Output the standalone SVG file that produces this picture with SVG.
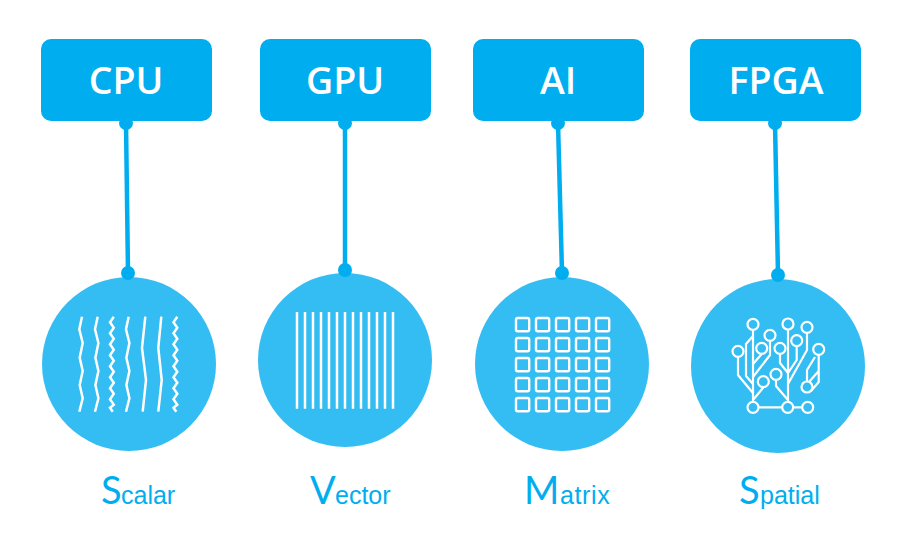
<svg xmlns="http://www.w3.org/2000/svg" width="900" height="546" viewBox="0 0 900 546">
<defs>
<style>
.box{fill:#00AEEF}
.disc{fill:#33BDF2}
.link{stroke:#00AEEF;stroke-width:4.5;fill:none}
.dot{fill:#00AEEF}
.title{font-family:"Open Sans",sans-serif;font-weight:600;font-size:37.500px;fill:#fff;text-anchor:middle}
.lab{font-family:"Liberation Sans",sans-serif;font-size:25px;fill:#00AEEF}
.big{font-family:"Lato",sans-serif;font-size:38px}
.ic{stroke:#fff;stroke-width:2.5;fill:none;stroke-linejoin:miter}
.cell{stroke:#fff;stroke-width:2.4;fill:none}
.tr{stroke:#fff;stroke-width:2.2;fill:none}
</style>
<path id="wob" d="M2.7 0L0 12.6L3.4 26.3L.4 41L3.4 54.3L.4 68.3L3.4 81.6L0 95"/>
<path id="zig" d="M3 0L-.8 5.500L3 11L-.8 16.500L3 22L-.8 27.500L3 33L-.8 38.500L3 44L-.8 49.500L3 55L-.8 60.500L3 66L-.8 71.500L3 77L-.8 82.500L3 88L-.8 91L2 95"/>
<rect id="c" width="13.200" height="13.200" rx="1.800"/>
</defs>
<rect width="900" height="546" fill="#fff"/>
<g id="connectors">
<path class="link" d="M126 123L128 273"/>
<path class="link" d="M345 123L345 270"/>
<path class="link" d="M558 123L562 273"/>
<path class="link" d="M775 123L778 275"/>
</g>
<g id="node-cpu">
<circle class="dot" cx="126" cy="123" r="7"/>
<rect class="box" x="41" y="39" width="171" height="82" rx="10"/>
<text class="title" x="126" y="94">CPU</text>
</g>
<g id="node-gpu">
<circle class="dot" cx="345" cy="123" r="7"/>
<rect class="box" x="260" y="39" width="171" height="82" rx="10"/>
<text class="title" x="345" y="94">GPU</text>
</g>
<g id="node-ai">
<circle class="dot" cx="558" cy="123" r="7"/>
<rect class="box" x="473" y="39" width="171" height="82" rx="10"/>
<text class="title" x="558" y="94">AI</text>
</g>
<g id="node-fpga">
<circle class="dot" cx="775" cy="123" r="7"/>
<rect class="box" x="690" y="39" width="171" height="82" rx="10"/>
<text class="title" x="776" y="94">FPGA</text>
</g>
<g id="node-scalar">
<circle class="disc" cx="129" cy="364" r="87"/>
<circle class="dot" cx="128" cy="273" r="7"/>
<g class="ic">
<use href="#wob" x="79.300" y="316.700"/>
<use href="#wob" x="95" y="316.700"/>
<use href="#zig" x="110.800" y="316.700"/>
<use href="#wob" x="126" y="316.700"/>
<path d="M145.300 316.700L142 348L146 380L142.700 411.700"/>
<path d="M161.300 316.700L158.300 348L161.700 380L158.300 411.700"/>
<use href="#zig" x="174.300" y="316.700"/>
</g>
<text class="lab" x="101" y="504"><tspan class="big">S</tspan><tspan x="121">calar</tspan></text>
</g>
<g id="node-vector">
<circle class="disc" cx="345" cy="360" r="87"/>
<circle class="dot" cx="345" cy="270" r="7"/>
<path class="ic" d="M297 312V408.700M305 312V408.700M313 312V408.700M321 312V408.700M329 312V408.700M337 312V408.700M345 312V408.700M353 312V408.700M361 312V408.700M369 312V408.700M377 312V408.700M385 312V408.700M393 312V408.700"/>
<text class="lab" x="310" y="504"><tspan class="big">V</tspan><tspan x="335">ector</tspan></text>
</g>
<g id="node-matrix">
<circle class="disc" cx="562" cy="364" r="87"/>
<circle class="dot" cx="562" cy="273" r="7"/>
<g class="cell">
<use href="#c" x="516" y="318"/><use href="#c" x="536" y="318"/><use href="#c" x="556" y="318"/><use href="#c" x="576" y="318"/><use href="#c" x="596" y="318"/>
<use href="#c" x="516" y="338"/><use href="#c" x="536" y="338"/><use href="#c" x="556" y="338"/><use href="#c" x="576" y="338"/><use href="#c" x="596" y="338"/>
<use href="#c" x="516" y="358"/><use href="#c" x="536" y="358"/><use href="#c" x="556" y="358"/><use href="#c" x="576" y="358"/><use href="#c" x="596" y="358"/>
<use href="#c" x="516" y="378"/><use href="#c" x="536" y="378"/><use href="#c" x="556" y="378"/><use href="#c" x="576" y="378"/><use href="#c" x="596" y="378"/>
<use href="#c" x="516" y="398"/><use href="#c" x="536" y="398"/><use href="#c" x="556" y="398"/><use href="#c" x="576" y="398"/><use href="#c" x="596" y="398"/>
</g>
<text class="lab" x="524" y="504"><tspan class="big">M</tspan><tspan x="560" letter-spacing=".6">atrix</tspan></text>
</g>
<g id="node-spatial">
<circle class="disc" cx="778" cy="366" r="87"/>
<circle class="dot" cx="778" cy="275" r="7"/>
<g class="tr">
<circle cx="753" cy="324.300" r="5.500"/><circle cx="770" cy="335.300" r="5.500"/><circle cx="738" cy="351.300" r="5.500"/><circle cx="761.700" cy="348.300" r="5.500"/><circle cx="788" cy="324" r="5.500"/><circle cx="807" cy="327.300" r="5.500"/><circle cx="796.700" cy="340.700" r="5.500"/><circle cx="780" cy="348.300" r="5.500"/><circle cx="818.700" cy="349.300" r="5.500"/><circle cx="776" cy="374.300" r="5.500"/><circle cx="763.300" cy="381.700" r="5.500"/><circle cx="807" cy="387" r="5.500"/><circle cx="753" cy="407.300" r="5.500"/><circle cx="787.700" cy="407.300" r="5.500"/><circle cx="807.700" cy="407.300" r="5.500"/>
<path d="M753 330V402M753 336L746 344V376L753 384M738 357V375L753 393M761.700 354L753 364M770 341V355L753 377M763.300 387.500L753 400"/>
<path d="M788 330V402M780 354V363L788 373M796.700 346.500V360L788 373M807 333V350L788 384"/>
<path d="M776 380V386L788 400M818.700 355V382L811 391M815 357L807 370V381M818.700 371L809 382"/>
<path d="M758.500 407.300H782M793.500 407.300H802"/>
</g>
<text class="lab" x="739" y="504"><tspan class="big">S</tspan><tspan x="760">patial</tspan></text>
</g>
</svg>
